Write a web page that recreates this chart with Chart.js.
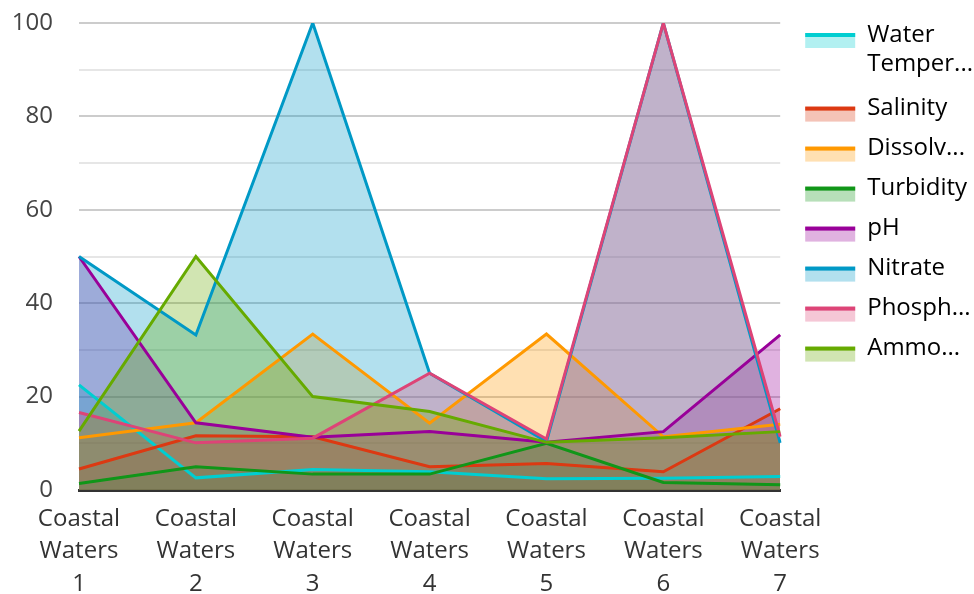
<!DOCTYPE html>
<html>
<head>
<meta charset="utf-8">
<script src="https://cdn.jsdelivr.net/npm/chart.js@4.4.1/dist/chart.umd.min.js"></script>
<style>
  html, body { margin: 0; padding: 0; background: #ffffff; }
  #wrap { width: 974px; height: 594px; position: relative; }
</style>
</head>
<body>
<div id="wrap"><canvas id="c" width="974" height="594"></canvas></div>
<script>
// ---- data ----
const categories = ['Coastal Waters 1', 'Coastal Waters 2', 'Coastal Waters 3', 'Coastal Waters 4', 'Coastal Waters 5', 'Coastal Waters 6', 'Coastal Waters 7'];
const seriesNames = ['Water Temperature', 'Salinity', 'Dissolved Oxygen', 'Turbidity', 'pH', 'Nitrate', 'Phosphate', 'Ammonia'];
const legendLabels = [['Water', 'Temper...'], 'Salinity', 'Dissolv...', 'Turbidity', 'pH', 'Nitrate', 'Phosph...', 'Ammo...'];
const waterTemperature = [22.5, 2.6, 4.4, 3.9, 2.4, 2.5, 2.9];
const salinity = [4.5, 11.6, 11.4, 5.0, 5.7, 3.9, 17.4];
const dissolvedOxygen = [11.2, 14.4, 33.4, 14.3, 33.4, 11.4, 14.1];
const turbidity = [1.4, 5.0, 3.4, 3.4, 10.0, 1.6, 1.1];
const pH = [50, 14.4, 11.3, 12.5, 10.2, 12.5, 33.2];
const nitrate = [50, 33.2, 100, 25, 10.4, 100, 10.1];
const phosphate = [16.6, 10.1, 11.1, 25, 10.9, 100, 11.4];
const ammonia = [12.6, 50, 20, 16.8, 10.2, 11.2, 12.5];
const yTickLabels = [0, 20, 40, 60, 80, 100];

// ---- styles ----
const lineColors = ['#00CED1', '#DC3912', '#FF9900', '#109618', '#990099', '#0099C6', '#DD4477', '#66AA00'];
function alpha(hex, a) {
  const r = parseInt(hex.slice(1, 3), 16), g = parseInt(hex.slice(3, 5), 16), b = parseInt(hex.slice(5, 7), 16);
  return 'rgba(' + r + ',' + g + ',' + b + ',' + a + ')';
}
const seriesValues = [waterTemperature, salinity, dissolvedOxygen, turbidity, pH, nitrate, phosphate, ammonia];
const n = seriesValues.length;

const datasets = seriesValues.map((vals, i) => ({
  label: seriesNames[i],
  data: vals,
  borderColor: lineColors[i],
  backgroundColor: alpha(lineColors[i], 0.3),
  borderWidth: 3,
  fill: 'origin',
  pointRadius: 0,
  pointHoverRadius: 0,
  tension: 0,
  order: n - i
}));

const FONT = "'Open Sans', 'Noto Sans', sans-serif";

// legend swatches: light fill with a coloured top stroke
const legendSwatch = {
  id: 'legendSwatch',
  afterLayout(chart) {
    const lg = chart.legend;
    if (!lg) return;
    lg.left += 9;
    lg.right += 9;
  },
  afterDraw(chart) {
    const lg = chart.legend;
    if (!lg || !lg.legendHitBoxes) return;
    const ctx = chart.ctx;
    const bw = lg.options.labels.boxWidth;
    ctx.save();
    lg.legendItems.forEach((item, i) => {
      const hb = lg.legendHitBoxes[i];
      const top = hb.top + 10;
      const c = lineColors[item.datasetIndex];
      ctx.fillStyle = alpha(c, 0.3);
      ctx.fillRect(hb.left, top, bw, 15);
      ctx.fillStyle = c;
      ctx.fillRect(hb.left, top, bw, 4);
    });
    ctx.restore();
  }
};

new Chart(document.getElementById('c'), {
  type: 'line',
  data: { labels: categories, datasets: datasets },
  plugins: [legendSwatch],
  options: {
    responsive: false,
    animation: false,
    layout: { padding: { left: 13, top: 7, right: 0, bottom: 0 } },
    plugins: {
      tooltip: { enabled: false },
      filler: { drawTime: 'beforeDatasetsDraw' },
      legend: {
        position: 'right',
        align: 'start',
        labels: {
          boxWidth: 50,
          boxHeight: 15,
          padding: 16,
          color: '#333333',
          font: { family: FONT, size: 24, lineHeight: 1.2 },
          generateLabels(chart) {
            return chart.data.datasets.map((ds, i) => ({
              text: legendLabels[i],
              fillStyle: 'rgba(0,0,0,0)',
              strokeStyle: 'rgba(0,0,0,0)',
              lineWidth: 0,
              hidden: false,
              datasetIndex: i
            }));
          }
        }
      }
    },
    scales: {
      x: {
        offset: false,
        grid: { display: false, drawTicks: false },
        border: { display: true, color: '#333333', width: 3 },
        afterFit(s) { s.height = 104; },
        ticks: {
          color: '#333333',
          padding: 13,
          maxRotation: 0,
          autoSkip: false,
          font: { family: FONT, size: 24, lineHeight: 1.35 },
          callback(v, i) { return categories[i].split(' '); }
        }
      },
      y: {
        min: 0,
        max: 100,
        border: { display: false },
        afterFit(s) { s.width = 66; s.paddingTop = 23; s.paddingBottom = 0; },
        grid: {
          drawTicks: false,
          lineWidth: 2,
          color(ctx) {
            const v = ctx.tick ? ctx.tick.value : 0;
            return yTickLabels.includes(v) ? '#cccccc' : '#e6e6e6';
          }
        },
        ticks: {
          stepSize: 10,
          autoSkip: false,
          padding: 26,
          color: '#444444',
          font: { family: FONT, size: 24, lineHeight: 1.2 },
          callback(v) { return yTickLabels.includes(v) ? String(v) : ''; }
        }
      }
    }
  }
});
</script>
</body>
</html>
